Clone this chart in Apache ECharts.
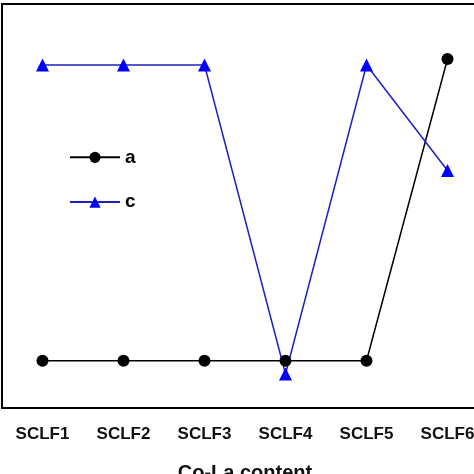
<!DOCTYPE html><html><head><script src="https://cdn.jsdelivr.net/npm/echarts@6/dist/echarts.min.js"></script></head><body style="margin:0"><div id="c" style="width:474px;height:474px"></div><script>
const categories=['SCLF1','SCLF2','SCLF3','SCLF4','SCLF5','SCLF6'];
const aValues=[11.7,11.7,11.7,11.7,11.7,86.4];
const cValues=[84.9,84.9,84.9,8.4,84.9,58.8];
const ch=echarts.init(document.getElementById('c'));
ch.setOption({animation:false,
grid:{left:2,top:4,right:-14,bottom:66,outerBoundsMode:'none',containLabel:false,show:true,borderColor:'#000',borderWidth:2},
legend:{left:64,top:136,orient:'vertical',itemGap:12,itemWidth:50,itemHeight:14,textStyle:{fontFamily:'Liberation Sans',fontWeight:'bold',fontSize:19,color:'#000'},data:['a','c']},
xAxis:{type:'category',data:categories,axisLine:{lineStyle:{color:'#000',width:2}},axisTick:{length:6,lineStyle:{width:2}},axisLabel:{margin:12,fontFamily:'Liberation Sans',fontWeight:'bold',fontSize:17,color:'#111'},name:'Co-La content',nameLocation:'middle',nameGap:48,nameTextStyle:{fontFamily:'Liberation Sans',fontWeight:'bold',fontSize:20,color:'#111'}},
yAxis:{type:'value',min:0,max:100,show:false,splitLine:{show:false}},
series:[
{name:'a',type:'line',data:aValues,symbol:'circle',symbolSize:12,color:'#000',lineStyle:{width:1.5,color:'#000'},itemStyle:{color:'#000'}},
{name:'c',type:'line',data:cValues,symbol:'triangle',symbolSize:13,color:'#0000ff',lineStyle:{width:1.5,color:'#2020c0'},itemStyle:{color:'#0000ff'}}
]});
</script></body></html>
